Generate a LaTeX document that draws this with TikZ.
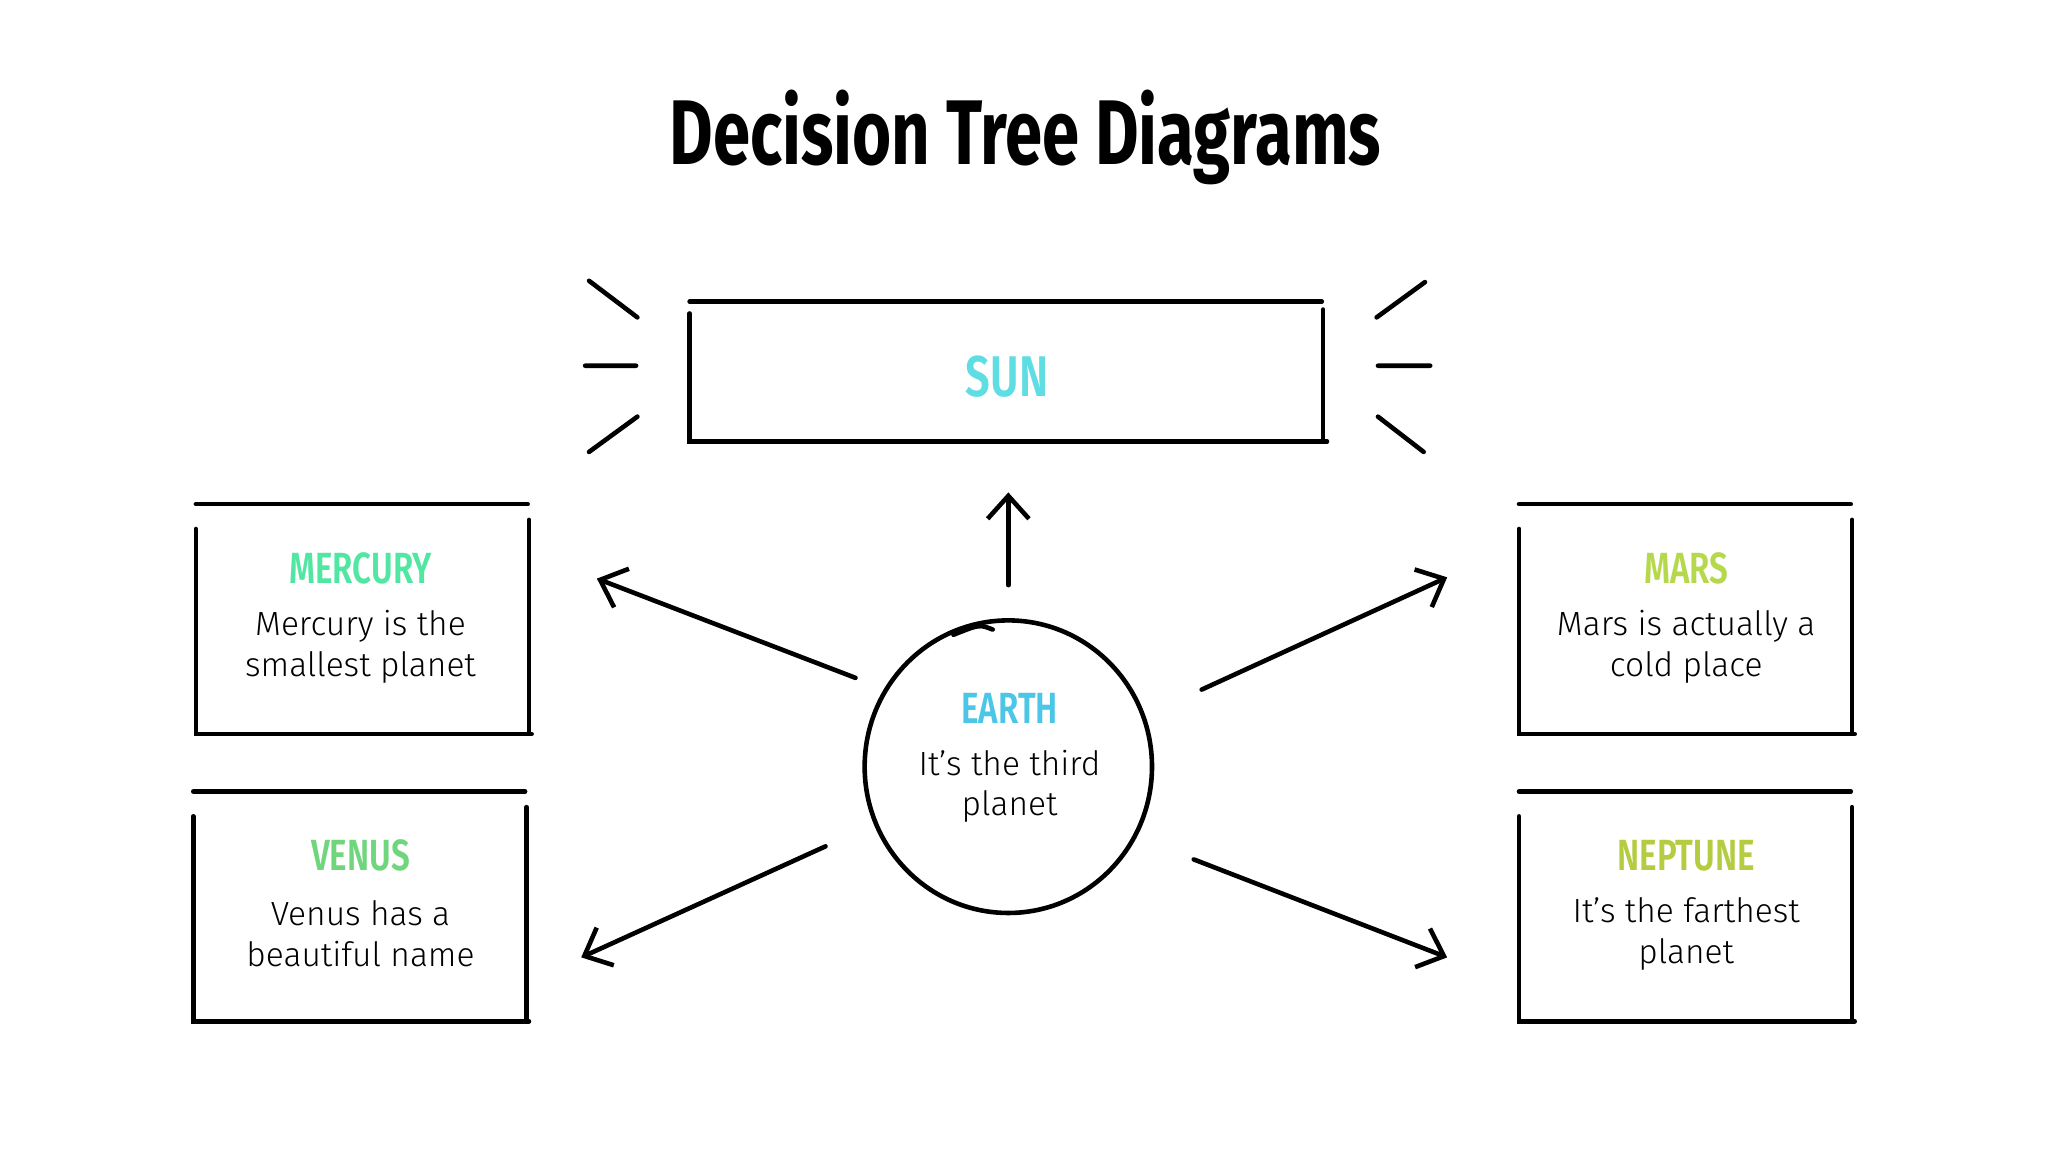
\documentclass[tikz,border=0pt]{standalone}
\usepackage{fontspec}
\setmainfont{Fira Sans Light}
\newfontfamily\headfont{Fira Sans Bold}
\newfontfamily\labfont{Fira Sans SemiBold}
\usetikzlibrary{arrows.meta}
\definecolor{cSun}{HTML}{5EDDE3}
\definecolor{cMerc}{HTML}{52E6A3}
\definecolor{cVen}{HTML}{6FD67D}
\definecolor{cMars}{HTML}{B6D84C}
\definecolor{cNep}{HTML}{B3CC40}
\definecolor{cEarth}{HTML}{4BC6E6}
\tikzset{
  sk/.style={line width=1pt, line cap=round},
  lab/.style={font=\labfont\fontsize{9.5}{11}\selectfont, xscale=0.76},
  body/.style={font=\fontsize{7.3}{8.9}\selectfont, align=center},
  arr/.style={sk, -{Straight Barb[length=5pt,width=9pt,line width=1pt]}}
}
\begin{document}
\begin{tikzpicture}[x=0.01cm,y=-0.01cm]
\useasboundingbox (0,0) rectangle (1568,882);
\fill[white] (0,0) rectangle (1568,882);
\node[font=\headfont\fontsize{20}{24}\selectfont, xscale=0.73] (title) at (785,105) {Decision Tree Diagrams};
% SUN
\node[minimum width=487, minimum height=107] (sun) at (771,285) {};
\node[lab, text=cSun, font=\labfont\fontsize{12.5}{14}\selectfont] (sunl) at (771,288) {SUN};
\draw[sk] (528,231) -- (1012,231);
\draw[sk] (528,240) -- (528,338) -- (1016,338);
\draw[sk] (1013,237) -- (1013,338);
\draw[sk] (451,215) -- (488,243) (448,280) -- (487,280) (451,346) -- (488,319);
\draw[sk] (1054,243) -- (1091,216) (1055,280) -- (1095,280) (1055,319) -- (1090,346);
% boxes
\newcommand{\skbox}[3]{%
 \draw[sk] (#1,#2) -- (#1+254,#2);
 \draw[sk] (#1,#2+19) -- (#1,#2+176) -- (#1+257,#2+176);
 \draw[sk] (#1+255,#2+12) -- (#1+255,#2+174);}
\skbox{150}{386}{}
\skbox{148}{606}{}
\skbox{1163}{386}{}
\skbox{1163}{606}{}
\node[lab, text=cMerc] (merc) at (276,435) {MERCURY};
\node[body] (mercb) at (276,495) {Mercury is the\\smallest planet};
\node[lab, text=cVen] (ven) at (276,655) {VENUS};
\node[body] (venb) at (276,715) {Venus has a\\beautiful name};
\node[lab, text=cMars] (mars) at (1291,435) {MARS};
\node[body] (marsb) at (1291,495) {Mars is actually a\\cold place};
\node[lab, text=cNep] (nep) at (1291,655) {NEPTUNE};
\node[body] (nepb) at (1291,715) {It’s the farthest\\planet};
% earth
\draw[sk] (772,587) ellipse [x radius=110, y radius=112];
\draw[sk] (730,486) .. controls (750,478) .. (760,482);
\node[lab, text=cEarth] (earth) at (773,542) {EARTH};
\node[body] (earthb) at (773,602) {It’s the third\\planet};
% arrows
\coordinate (e1) at (772,448); \coordinate (t1) at (772,377);
\coordinate (e2) at (655,519); \coordinate (t2) at (457,443);
\coordinate (e3) at (920,528); \coordinate (t3) at (1108,442);
\coordinate (e4) at (632,648); \coordinate (t4) at (445,733);
\coordinate (e5) at (914,658); \coordinate (t5) at (1108,733);
\foreach \i in {1,...,5} \draw[arr] (e\i) -- (t\i);
\end{tikzpicture}
\end{document}
